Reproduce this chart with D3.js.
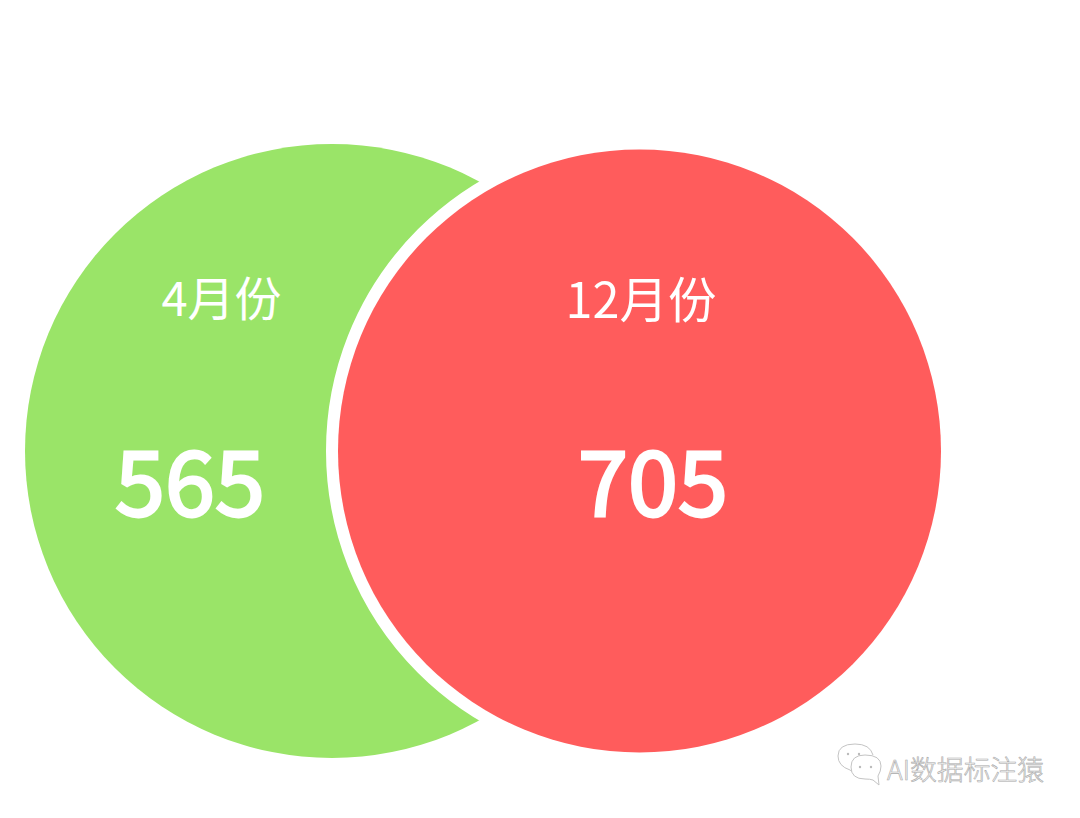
<!DOCTYPE html>
<html><head><meta charset="utf-8">
<script src="https://cdnjs.cloudflare.com/ajax/libs/d3/7.8.5/d3.min.js"></script>
<style>html,body{margin:0;padding:0;background:#fff}svg{display:block}</style>
</head><body><svg id="c" width="1080" height="818"></svg>
<script>
const labels = ["4月份","12月份"];
const values = [565,705];
const colors = ["#9ae468","#ff5c5c"];
const watermark = "AI数据标注猿";
const font = "'Noto Sans CJK SC','Noto Sans',sans-serif";
const svg = d3.select("#c");
const r = d3.scaleLinear().domain([565,705]).range([307,301.5]);
const cx = d3.scaleOrdinal().domain(labels).range([332,639.5]);
const cy = d3.scaleOrdinal().domain(labels).range([451,451]);
const data = labels.map((l,i)=>({l,v:values[i],c:colors[i]}));
svg.selectAll("circle.m").data(data).join("circle").attr("class","m")
  .attr("cx",d=>cx(d.l)).attr("cy",d=>cy(d.l)).attr("r",d=>r(d.v))
  .attr("fill",d=>d.c)
  .attr("stroke",(d,i)=>i?"#fff":"none").attr("stroke-width",(d,i)=>i?24:0)
  .attr("paint-order","stroke");
const lx=[221.5,641], nx=[190,653];
svg.selectAll("text.l").data(data).join("text").attr("class","l")
  .attr("x",(d,i)=>lx[i]).attr("y",(d,i)=>i?318:316).attr("text-anchor","middle")
  .attr("font-family",font).attr("font-size",(d,i)=>i?48.5:47).attr("fill","#fff").text(d=>d.l);
svg.selectAll("text.n").data(data).join("text").attr("class","n")
  .attr("x",(d,i)=>nx[i]).attr("y",516).attr("text-anchor","middle")
  .attr("font-family",font).attr("font-size",90).attr("fill","#fff")
  .attr("stroke","#fff").attr("stroke-width",2.8).text(d=>d.v);
// watermark
const wm = svg.append("g").attr("fill","#fff").attr("stroke","#c4c4c4").attr("stroke-width",1);
wm.append("path").attr("d","M857 775 L850 770 Q838 766 838 756 Q838 744 855 744 Q870 744 873 755");
wm.append("path").attr("d","M873 780 L879 785 L878 776 Q881 771 881 766 Q881 755 865 755 Q851 755 851 767 Q851 779 865 779 Q870 779 873 780 Z");
[[848,754],[859,754],[860,767],[871,767]].forEach(p=>wm.append("circle").attr("cx",p[0]).attr("cy",p[1]).attr("r",1.2).attr("fill","#bbb").attr("stroke","none"));
svg.append("text").attr("x",887).attr("y",780).attr("font-family",font).attr("font-size",26.8).attr("font-weight",300)
  .attr("fill","#f4f4f4").attr("stroke","#aaaaaa").attr("stroke-width",0.6).text(watermark);
</script></body></html>
